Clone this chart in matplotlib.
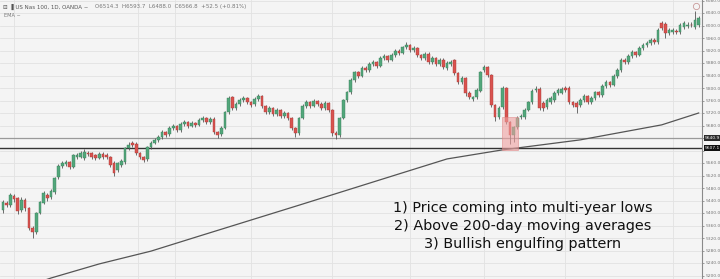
import matplotlib.pyplot as plt
import matplotlib.transforms as mtransforms
from matplotlib.patches import Rectangle

# daily candles, left to right
opens = [5410, 5432, 5426, 5454, 5448, 5410, 5442, 5416, 5352, 5339,
         5400, 5432, 5458, 5451, 5467, 5515, 5550, 5558, 5563, 5547,
         5579, 5579, 5576, 5592, 5592, 5586, 5576, 5589, 5586, 5579,
         5560, 5538, 5554, 5563, 5608, 5624, 5621, 5592, 5579, 5573,
         5611, 5624, 5634, 5643, 5659, 5653, 5672, 5678, 5666, 5685,
         5691, 5678, 5688, 5682, 5698, 5704, 5691, 5701, 5659, 5653,
         5672, 5723, 5771, 5736, 5749, 5762, 5768, 5755, 5749, 5765,
         5774, 5742, 5723, 5736, 5717, 5730, 5710, 5720, 5704, 5672,
         5656, 5704, 5742, 5755, 5742, 5758, 5749, 5736, 5752, 5730,
         5656, 5650, 5704, 5762, 5787, 5826, 5851, 5838, 5864, 5858,
         5877, 5883, 5870, 5896, 5902, 5890, 5906, 5918, 5912, 5931,
         5938, 5922, 5928, 5906, 5896, 5909, 5883, 5896, 5877, 5890,
         5864, 5877, 5890, 5848, 5819, 5832, 5784, 5765, 5771, 5790,
         5858, 5867, 5842, 5746, 5707, 5739, 5800, 5691, 5650, 5675,
         5707, 5707, 5730, 5755, 5794, 5797, 5752, 5739, 5755, 5762,
         5784, 5784, 5800, 5800, 5755, 5752, 5746, 5762, 5774, 5755,
         5768, 5787, 5778, 5806, 5819, 5810, 5838, 5858, 5890, 5883,
         5902, 5915, 5906, 5928, 5938, 5944, 5954, 5947, 6008, 6005,
         5976, 5979, 5982, 5979, 5995, 5998, 6002, 5995, 6002]
closes = [5435, 5426, 5458, 5445, 5406, 5442, 5416, 5352, 5339, 5400,
          5435, 5464, 5448, 5470, 5512, 5550, 5560, 5563, 5547, 5586,
          5586, 5592, 5595, 5589, 5579, 5576, 5589, 5579, 5579, 5554,
          5528, 5560, 5566, 5608, 5618, 5618, 5592, 5579, 5570, 5611,
          5624, 5634, 5643, 5659, 5650, 5672, 5678, 5666, 5685, 5691,
          5678, 5688, 5682, 5698, 5704, 5691, 5701, 5659, 5650, 5672,
          5723, 5768, 5736, 5749, 5762, 5768, 5755, 5746, 5765, 5774,
          5742, 5723, 5736, 5717, 5730, 5710, 5720, 5704, 5672, 5656,
          5704, 5742, 5755, 5742, 5758, 5749, 5736, 5752, 5730, 5656,
          5650, 5704, 5762, 5787, 5826, 5851, 5838, 5864, 5858, 5877,
          5883, 5870, 5896, 5902, 5890, 5906, 5918, 5912, 5931, 5938,
          5922, 5928, 5906, 5896, 5909, 5883, 5896, 5877, 5890, 5867,
          5880, 5883, 5848, 5819, 5832, 5784, 5771, 5771, 5794, 5851,
          5867, 5842, 5746, 5707, 5736, 5800, 5691, 5650, 5675, 5704,
          5710, 5730, 5755, 5790, 5797, 5736, 5736, 5762, 5768, 5784,
          5794, 5797, 5794, 5755, 5746, 5739, 5762, 5774, 5755, 5768,
          5787, 5778, 5806, 5819, 5810, 5838, 5858, 5890, 5883, 5902,
          5915, 5906, 5928, 5938, 5944, 5954, 5947, 5986, 5992, 5976,
          5986, 5986, 5979, 6002, 6008, 6002, 6001, 6018, 6024]
highs = [5442, 5440, 5465, 5462, 5452, 5450, 5448, 5420, 5358, 5404,
         5440, 5470, 5463, 5476, 5516, 5556, 5566, 5570, 5568, 5590,
         5592, 5600, 5604, 5598, 5596, 5590, 5596, 5594, 5592, 5584,
         5566, 5564, 5572, 5612, 5626, 5632, 5626, 5596, 5584, 5616,
         5630, 5640, 5650, 5666, 5664, 5678, 5686, 5682, 5690, 5698,
         5696, 5694, 5692, 5704, 5710, 5708, 5708, 5706, 5664, 5678,
         5728, 5774, 5776, 5755, 5768, 5776, 5772, 5760, 5770, 5780,
         5778, 5746, 5742, 5740, 5736, 5734, 5726, 5724, 5708, 5676,
         5708, 5748, 5762, 5760, 5764, 5762, 5754, 5758, 5756, 5734,
         5662, 5708, 5766, 5792, 5832, 5856, 5856, 5870, 5870, 5882,
         5890, 5888, 5902, 5908, 5906, 5912, 5924, 5924, 5936, 5946,
         5942, 5934, 5932, 5910, 5914, 5914, 5902, 5900, 5896, 5896,
         5886, 5890, 5894, 5852, 5840, 5836, 5790, 5776, 5800, 5856,
         5874, 5872, 5846, 5750, 5742, 5806, 5804, 5696, 5680, 5710,
         5716, 5736, 5760, 5796, 5806, 5802, 5758, 5768, 5774, 5790,
         5800, 5804, 5808, 5806, 5760, 5758, 5768, 5780, 5778, 5774,
         5792, 5792, 5812, 5826, 5824, 5844, 5864, 5896, 5896, 5908,
         5922, 5920, 5934, 5944, 5950, 5960, 5960, 5992, 6014, 6010,
         5992, 5992, 5988, 6008, 6014, 6010, 6010, 6046, 6030]
lows = [5400, 5418, 5420, 5436, 5398, 5402, 5408, 5346, 5320, 5334,
        5396, 5428, 5440, 5446, 5462, 5510, 5545, 5552, 5540, 5543,
        5574, 5575, 5570, 5584, 5574, 5570, 5572, 5574, 5572, 5548,
        5520, 5532, 5548, 5558, 5602, 5612, 5586, 5572, 5562, 5568,
        5606, 5620, 5628, 5638, 5644, 5648, 5666, 5660, 5660, 5680,
        5672, 5674, 5676, 5678, 5692, 5686, 5686, 5652, 5640, 5646,
        5668, 5718, 5730, 5730, 5744, 5756, 5750, 5740, 5744, 5760,
        5736, 5716, 5718, 5710, 5712, 5704, 5704, 5698, 5666, 5644,
        5650, 5700, 5736, 5736, 5738, 5744, 5730, 5730, 5724, 5648,
        5636, 5644, 5700, 5756, 5782, 5820, 5832, 5834, 5852, 5852,
        5872, 5864, 5866, 5890, 5884, 5886, 5900, 5906, 5908, 5926,
        5916, 5916, 5900, 5890, 5890, 5878, 5878, 5870, 5872, 5862,
        5858, 5872, 5842, 5812, 5814, 5776, 5764, 5760, 5766, 5786,
        5852, 5836, 5740, 5694, 5700, 5734, 5684, 5620, 5628, 5668,
        5700, 5702, 5726, 5750, 5788, 5730, 5728, 5734, 5750, 5756,
        5778, 5780, 5788, 5750, 5738, 5720, 5740, 5756, 5748, 5750,
        5762, 5772, 5772, 5800, 5804, 5806, 5832, 5852, 5876, 5878,
        5896, 5900, 5902, 5922, 5932, 5938, 5940, 5942, 5986, 5960,
        5970, 5974, 5972, 5974, 5990, 5992, 5994, 5990, 5996]

# 200-day moving average, read at a few candles
ma_day = [10, 13, 26, 40, 53, 80, 107, 120, 135, 156, 178, 188]
ma_value = [5180, 5192, 5237, 5278, 5326, 5425, 5525, 5573, 5602, 5634, 5682, 5720]

level_upper = 5640.9
level_lower = 5607.1
price_ticks = list(range(5200, 6081, 40))
month_lines = [3, 36.5, 46.5, 67, 89, 110, 130, 152, 181]

notes = ["1) Price coming into multi-year lows",
         "2) Above 200-day moving averages",
         "3) Bullish engulfing pattern"]

n = len(opens)
assert len(closes) == n and len(highs) == n and len(lows) == n

bg = '#f4f4f4'
up_col, up_edge = '#52a77b', '#3b7f5b'
dn_col, dn_edge = '#d9534f', '#a83a37'

fig = plt.figure(figsize=(7.2, 2.79), dpi=100)
fig.patch.set_facecolor(bg)
ax = fig.add_axes([0, 0, 702 / 720, 1])
ax.set_facecolor(bg)

for p in price_ticks:
    ax.axhline(p, color='#e2e2e2', lw=0.6, zorder=0)
for d in month_lines:
    ax.axvline(d, color='#e2e2e2', lw=0.6, zorder=0)

# candles
for i in range(n):
    o, c = opens[i], closes[i]
    up = c >= o
    ax.vlines(i, lows[i], highs[i], color='#555555', lw=0.6, zorder=2)
    body = max(abs(c - o), 1.5)
    ax.bar(i, body, bottom=min(o, c), width=0.72,
           color=up_col if up else dn_col,
           edgecolor=up_edge if up else dn_edge, lw=0.3, zorder=3)

ax.plot(ma_day, ma_value, color='#555555', lw=0.9, zorder=2)

ax.axhline(level_upper, color='#9a9a9a', lw=0.9, zorder=1)
ax.axhline(level_lower, color='#333333', lw=1.0, zorder=1)

# highlighted engulfing area
ax.add_patch(Rectangle((134.9, 5602), 4.4, 105, facecolor='#f0a0a0',
                       edgecolor='#e08585', lw=0.6, alpha=0.6, zorder=4))

ax.set_xlim(-0.8, 188.9)
ax.set_ylim(5188.8, 6081.6)

# tick labels hidden where the level boxes sit
ax.yaxis.tick_right()
ax.set_yticks(price_ticks)
ax.set_yticklabels(['' if abs(p - level_upper) < 20 or abs(p - level_lower) < 20
                    else f'{p:.1f}' for p in price_ticks])
ax.tick_params(axis='y', labelsize=3.2, colors='#777777', length=1.5, width=0.5, pad=1)
ax.set_xticks([])
for s in ['left', 'top', 'bottom']:
    ax.spines[s].set_visible(False)
ax.spines['right'].set_color('#8a8a8a')
ax.spines['right'].set_linewidth(0.8)

trans = mtransforms.blended_transform_factory(ax.transAxes, ax.transData)
ax.text(1.004, level_upper, f'{level_upper:.1f}', transform=trans, fontsize=3.2,
        color='white', va='center', ha='left',
        bbox=dict(boxstyle='square,pad=0.2', fc='#2b2b2b', ec='none'))
ax.text(1.004, level_lower, f'{level_lower:.1f}', transform=trans, fontsize=3.2,
        color='white', va='center', ha='left',
        bbox=dict(boxstyle='square,pad=0.2', fc='#111111', ec='none'))

# header
ax.text(0.004, 0.985, '\u229f \u2590 US Nas 100, 1D, OANDA ~', transform=ax.transAxes,
        fontsize=4.0, color='#555555', va='top', ha='left')
ax.text(95 / 702, 0.985, 'O6514.3  H6593.7  L6488.0  C6566.8  +52.5 (+0.81%)',
        transform=ax.transAxes, fontsize=4.0, color='#777777', va='top', ha='left')
ax.text(0.006, 0.955, 'EMA ~', transform=ax.transAxes, fontsize=3.6,
        color='#777777', va='top', ha='left')
ax.plot([696 / 702], [1 - 6 / 279], transform=ax.transAxes, marker='o', ms=4.5,
        mfc='none', mec='#c99a9a', mew=0.6)

for k, line in enumerate(notes):
    ax.text(523 / 702, 1 - (208 + 18 * k) / 279, line, transform=ax.transAxes,
            fontsize=10.4, color='#111111', ha='center', va='center')

fig.savefig('out.png', dpi=100, facecolor=bg)
